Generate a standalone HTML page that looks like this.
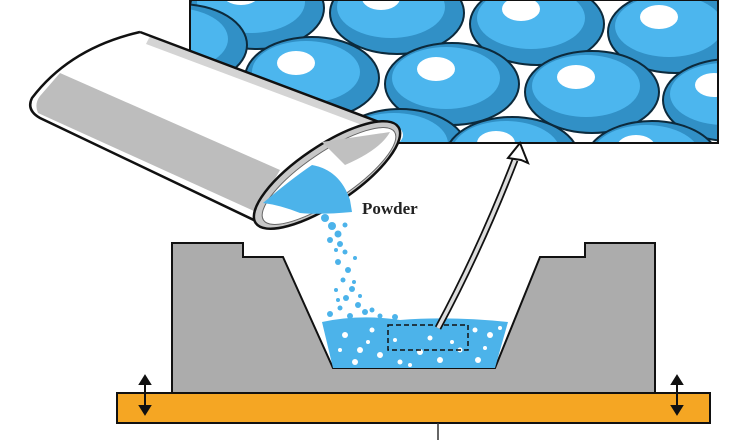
<!DOCTYPE html>
<html><head><style>html,body{margin:0;padding:0;background:#fff;width:750px;height:440px;overflow:hidden}</style></head>
<body>
<svg width="750" height="440" viewBox="0 0 750 440" xmlns="http://www.w3.org/2000/svg">
<defs>
<clipPath id="pc"><rect x="190" y="0" width="528" height="143"/></clipPath>
<g id="s"><ellipse rx="67" ry="41" fill="#3190c6" stroke="#0c2a3c" stroke-width="2"/><ellipse cx="-6" cy="-6" rx="54" ry="31" fill="#4cb6ee"/><ellipse cx="-16" cy="-15" rx="19" ry="12" fill="#fff"/></g>
</defs>
<rect x="190" y="0" width="528" height="143" fill="#fff"/>
<g clip-path="url(#pc)">
<use href="#s" x="257" y="8"/><use href="#s" x="397" y="13"/><use href="#s" x="537" y="24"/><use href="#s" x="675" y="32"/>
<use href="#s" x="180" y="45"/><use href="#s" x="312" y="78"/><use href="#s" x="452" y="84"/><use href="#s" x="592" y="92"/><use href="#s" x="730" y="100"/>
<use href="#s" x="400" y="150"/><use href="#s" x="512" y="158"/><use href="#s" x="652" y="162"/>
</g>
<rect x="190" y="0" width="528" height="143" fill="none" stroke="#111" stroke-width="2"/>
<!-- cylinder -->
<path d="M140,32 L395,128 L258,222 L40,118 Q26,110 32,98 Q70,48 140,32 Z" fill="#fff"/>
<path d="M60,73 L280,170 L256,212 L38,113 Q34,104 40,96 Z" fill="#bdbdbd"/>
<path d="M150,36 L392,127 L386,134 L146,44 Z" fill="#d4d4d4"/>
<path d="M140,32 L395,128 M258,222 L40,118 Q26,110 32,98 Q70,48 140,32" fill="none" stroke="#111" stroke-width="2.5"/>
<ellipse cx="327" cy="175" rx="86" ry="29" transform="rotate(-34 327 175)" fill="#c8c8c8" stroke="#111" stroke-width="2.5"/>
<ellipse cx="329" cy="176" rx="79" ry="24" transform="rotate(-34 329 176)" fill="#fff" stroke="#666" stroke-width="1"/>
<path d="M322,142 L390,132 Q380,150 345,165 Z" fill="#c0c0c0"/>
<path d="M263,203 Q290,180 312,165 Q340,170 350,200 L352,212 Q320,215 300,213 Q280,205 263,203 Z" fill="#4cb3ea"/>
<text x="362" y="214" font-family="Liberation Serif, serif" font-weight="bold" font-size="17" fill="#222">Powder</text>
<!-- mold -->
<path d="M172,243 L243,243 L243,257 L283,257 L333,368 L495,368 L540,257 L585,257 L585,243 L655,243 L655,393 L172,393 Z" fill="#acacac" stroke="#111" stroke-width="2"/>
<path d="M322,322 Q360,314 400,320 Q450,316 508,322 L495,368 L333,368 Z" fill="#4cb3ea"/>
<g fill="#fff">
<circle cx="345" cy="335" r="3"/><circle cx="360" cy="350" r="3"/><circle cx="372" cy="330" r="2.5"/><circle cx="355" cy="362" r="3"/><circle cx="380" cy="355" r="3"/><circle cx="400" cy="362" r="2.5"/><circle cx="420" cy="352" r="3"/><circle cx="440" cy="360" r="3"/><circle cx="460" cy="350" r="2.5"/><circle cx="478" cy="360" r="3"/><circle cx="490" cy="335" r="3"/><circle cx="475" cy="330" r="2.5"/><circle cx="395" cy="340" r="2"/><circle cx="430" cy="338" r="2.5"/><circle cx="340" cy="350" r="2"/><circle cx="500" cy="328" r="2"/><circle cx="368" cy="342" r="2"/><circle cx="410" cy="365" r="2"/><circle cx="452" cy="342" r="2"/><circle cx="485" cy="348" r="2"/>
</g>
<g fill="#4cb3ea">
<circle cx="325" cy="218" r="4"/><circle cx="332" cy="226" r="4"/><circle cx="338" cy="234" r="3.5"/><circle cx="330" cy="240" r="3"/><circle cx="340" cy="244" r="3"/><circle cx="345" cy="252" r="2.5"/><circle cx="338" cy="262" r="3"/><circle cx="348" cy="270" r="3"/><circle cx="343" cy="280" r="2.5"/><circle cx="352" cy="289" r="3"/><circle cx="346" cy="298" r="3"/><circle cx="358" cy="305" r="3"/><circle cx="340" cy="308" r="2.5"/><circle cx="365" cy="312" r="3"/><circle cx="330" cy="314" r="3"/><circle cx="350" cy="316" r="3"/><circle cx="380" cy="316" r="2.5"/><circle cx="395" cy="317" r="3"/><circle cx="355" cy="258" r="2"/><circle cx="336" cy="290" r="2"/><circle cx="345" cy="225" r="2.5"/><circle cx="336" cy="250" r="2"/><circle cx="354" cy="282" r="2"/><circle cx="338" cy="300" r="2"/><circle cx="360" cy="296" r="2"/><circle cx="372" cy="310" r="2.5"/>
</g>
<rect x="388" y="325" width="80" height="25" fill="none" stroke="#111" stroke-width="1.5" stroke-dasharray="5,3"/>
<!-- arrow -->
<path d="M438,328 Q480,250 515,160" fill="none" stroke="#111" stroke-width="7"/>
<path d="M438,328 Q480,250 515,160" fill="none" stroke="#ddd" stroke-width="3.5"/>
<path d="M520,143 L528,163 L521,160 L508,158 Z" fill="#fff" stroke="#111" stroke-width="2"/>
<!-- plate -->
<rect x="117" y="393" width="593" height="30" fill="#f5a623" stroke="#111" stroke-width="2"/>
<line x1="438" y1="423" x2="438" y2="440" stroke="#333" stroke-width="1.5"/>
<g stroke="#111" stroke-width="2" fill="#111">
<line x1="145" y1="382" x2="145" y2="408"/><path d="M140,384 L145,376 L150,384 Z"/><path d="M140,406 L145,414 L150,406 Z"/>
<line x1="677" y1="382" x2="677" y2="408"/><path d="M672,384 L677,376 L682,384 Z"/><path d="M672,406 L677,414 L682,406 Z"/>
</g>
</svg>
</body></html>
